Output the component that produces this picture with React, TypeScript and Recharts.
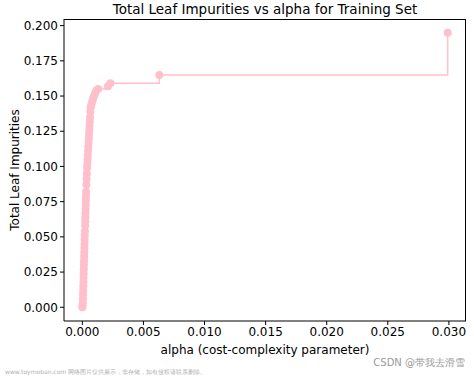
import {
  LineChart,
  Line,
  XAxis,
  YAxis,
} from 'recharts'

// ccp alphas and the total leaf impurity at each pruning step
const alphas = [
  0, 0.00002, 0.00004, 0.00005, 0.00006, 0.00007, 0.00008, 0.00009, 0.0001,
  0.00011, 0.00012, 0.00013, 0.00014, 0.00015, 0.00016, 0.00017, 0.00018,
  0.00019, 0.0002, 0.00021, 0.00023, 0.00024, 0.00025, 0.00026, 0.00027,
  0.00028, 0.00029, 0.0003, 0.00031, 0.00033, 0.00035, 0.00037, 0.00039,
  0.00041, 0.00043, 0.00045, 0.00047, 0.00049, 0.00051, 0.00053, 0.00055,
  0.00057, 0.00059, 0.00061, 0.00063, 0.00066, 0.0007, 0.00074, 0.0008,
  0.00088, 0.00095, 0.00105, 0.00115, 0.0013, 0.0021, 0.0023, 0.0063, 0.0299,
]
const impurities = [
  0, 0.001, 0.003, 0.006, 0.009, 0.012, 0.015, 0.018, 0.021, 0.024, 0.027,
  0.03, 0.033, 0.036, 0.039, 0.042, 0.045, 0.048, 0.051, 0.054, 0.058, 0.061,
  0.064, 0.067, 0.07, 0.073, 0.076, 0.079, 0.082, 0.087, 0.091, 0.095, 0.099,
  0.102, 0.105, 0.108, 0.111, 0.114, 0.117, 0.12, 0.123, 0.126, 0.129, 0.132,
  0.135, 0.139, 0.142, 0.144, 0.146, 0.148, 0.15, 0.152, 0.154, 0.155, 0.157,
  0.159, 0.165, 0.195,
]
const xTicks = [0, 0.005, 0.01, 0.015, 0.02, 0.025, 0.03]
const yTicks = [0, 0.025, 0.05, 0.075, 0.1, 0.125, 0.15, 0.175, 0.2]

const data = alphas.map((a, i) => ({ alpha: a, impurity: impurities[i] }))

const font = 'DejaVu Sans'
const tickStyle = { fill: '#000', fontSize: 12, fontFamily: font }

export default function App() {
  return (
    <div style={{ position: 'absolute', left: 0, top: 0, width: 474, height: 377, background: '#fff' }}>
      <LineChart
        width={474}
        height={377}
        data={data}
        margin={{ top: 19, right: 8, left: 0, bottom: 0 }}
      >
        <XAxis
          dataKey="alpha"
          type="number"
          domain={[-0.0015, 0.0314]}
          ticks={xTicks}
          tickFormatter={(v: number) => v.toFixed(3)}
          tick={tickStyle}
          tickSize={4}
          tickLine={{ stroke: '#000' }}
          axisLine={{ stroke: '#000' }}
          height={56}
          allowDataOverflow
        />
        <YAxis
          type="number"
          domain={[-0.00975, 0.2047]}
          ticks={yTicks}
          tickFormatter={(v: number) => v.toFixed(3)}
          tick={tickStyle}
          tickSize={4}
          tickLine={{ stroke: '#000' }}
          axisLine={{ stroke: '#000' }}
          width={64}
          allowDataOverflow
        />
        <Line
          type="stepAfter"
          dataKey="impurity"
          stroke="#ffc0cb"
          strokeWidth={1.5}
          dot={{ r: 4, fill: '#ffc0cb', stroke: '#ffc0cb', strokeWidth: 0 }}
          isAnimationActive={false}
        />
      </LineChart>
      {/* axes frame (top and right spines) */}
      <div
        style={{
          position: 'absolute', left: 64, top: 19, width: 402, height: 302,
          borderTop: '1px solid #000', borderRight: '1px solid #000', boxSizing: 'border-box',
          pointerEvents: 'none',
        }}
      />
      <div
        style={{
          position: 'absolute', left: 64, width: 402, top: 0, textAlign: 'center',
          fontFamily: font, fontSize: 13.5, lineHeight: '18px', color: '#000',
        }}
      >
        Total Leaf Impurities vs alpha for Training Set
      </div>
      <div
        style={{
          position: 'absolute', left: 64, width: 402, top: 342, textAlign: 'center',
          fontFamily: font, fontSize: 12, lineHeight: '16px', color: '#000',
        }}
      >
        alpha (cost-complexity parameter)
      </div>
      <div
        style={{
          position: 'absolute', left: 15 - 100, top: 170 - 8, width: 200, textAlign: 'center',
          transform: 'rotate(-90deg)', fontFamily: font, fontSize: 12, lineHeight: '16px', color: '#000',
        }}
      >
        Total Leaf Impurities
      </div>
      <div
        style={{
          position: 'absolute', right: 9, top: 356, fontFamily: font, fontSize: 10,
          lineHeight: '14px', color: '#9a9a9a',
        }}
      >
        CSDN @带我去滑雪
      </div>
      <div
        style={{
          position: 'absolute', left: 5, top: 368, fontFamily: font, fontSize: 6,
          lineHeight: '8px', color: '#b0b0b0',
        }}
      >
        www.toymoban.com 网络图片仅供展示，非存储，如有侵权请联系删除。
      </div>
    </div>
  )
}
